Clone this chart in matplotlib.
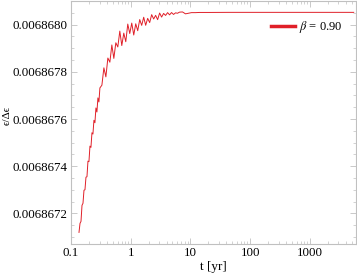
import matplotlib
matplotlib.use("Agg")
import matplotlib.pyplot as plt
from matplotlib.ticker import FixedLocator, LogLocator, NullFormatter, MultipleLocator, FuncFormatter

# time [yr]
t_yr = [0.1359, 0.1413, 0.1468, 0.1526, 0.1585, 0.1647, 0.1711, 0.1778, 0.1848, 0.1920,
        0.1995, 0.2073, 0.2154, 0.2239, 0.2326, 0.2417, 0.2512, 0.2610, 0.2712, 0.2818,
        0.2929, 0.3043, 0.3286, 0.3548, 0.3831, 0.4136, 0.4467, 0.4822, 0.5207, 0.5623,
        0.6072, 0.6556, 0.7079, 0.7644, 0.8254, 0.8913, 0.9624, 1.039, 1.122, 1.212,
        1.308, 1.413, 1.525, 1.647, 1.778, 1.920, 2.074, 2.239, 2.418, 2.610,
        2.818, 3.043, 3.286, 3.548, 3.831, 4.136, 4.467, 4.822, 5.207, 5.623,
        6.072, 6.556, 7.356, 8.254, 9.261, 10.39, 12.12, 14.13, 20.74, 44.67,
        141.3, 655.6, 5412.0]

# epsilon / delta epsilon
ratio = [0.0068671191, 0.0068671574, 0.0068671660, 0.0068672340, 0.0068672426, 0.0068672979,
         0.0068673000, 0.0068673532, 0.0068673553, 0.0068674213, 0.0068674192, 0.0068674851,
         0.0068674796, 0.0068675417, 0.0068675362, 0.0068675945, 0.0068675843, 0.0068676468,
         0.0068676298, 0.0068676894, 0.0068676723, 0.0068677319, 0.0068677434, 0.0068678170,
         0.0068677787, 0.0068678587, 0.0068678408, 0.0068679140, 0.0068678570, 0.0068679234,
         0.0068679055, 0.0068679728, 0.0068679115, 0.0068679642, 0.0068679277, 0.0068680026,
         0.0068679625, 0.0068680068, 0.0068679562, 0.0068680038, 0.0068679745, 0.0068680217,
         0.0068679970, 0.0068680315, 0.0068679974, 0.0068680268, 0.0068680089, 0.0068680426,
         0.0068680242, 0.0068680396, 0.0068680213, 0.0068680494, 0.0068680323, 0.0068680477,
         0.0068680392, 0.0068680511, 0.0068680417, 0.0068680515, 0.0068680434, 0.0068680502,
         0.0068680485, 0.0068680532, 0.0068680540, 0.0068680460, 0.0068680485, 0.0068680511,
         0.0068680511, 0.0068680519, 0.0068680519, 0.0068680523, 0.0068680523, 0.0068680523,
         0.0068680523]

x_ticks = [0.1, 1, 10, 100, 1000]
y_ticks = [0.0068672, 0.0068674, 0.0068676, 0.0068678, 0.0068680]

plt.rcParams["font.family"] = ["Liberation Serif", "DejaVu Serif"]
plt.rcParams["mathtext.fontset"] = "stix"

fig = plt.figure(figsize=(3.57, 2.76), dpi=100)
ax = fig.add_axes([0.199, 0.116, 0.798, 0.88])

red = "#e01f28"
ax.plot(t_yr, ratio, color=red, lw=0.7, label=r"$\beta$ = 0.90")

ax.set_xscale("log")
ax.set_xlim(0.1, 5900)
ax.set_ylim(0.00686707, 0.0068681)

ax.xaxis.set_major_locator(FixedLocator(x_ticks))
ax.xaxis.set_major_formatter(FuncFormatter(lambda v, p: f"{v:g}"))
ax.xaxis.set_minor_locator(LogLocator(base=10, subs=range(2, 10)))
ax.xaxis.set_minor_formatter(NullFormatter())
ax.yaxis.set_major_locator(FixedLocator(y_ticks))
ax.yaxis.set_major_formatter(FuncFormatter(lambda v, p: f"{v:.7f}"))
ax.yaxis.set_minor_locator(MultipleLocator(0.00000005))

gray = "#c0c0c0"
for s in ax.spines.values():
    s.set_color(gray)
    s.set_linewidth(0.8)
ax.tick_params(which="both", direction="in", top=True, right=True, color=gray,
               labelsize=9.3, labelcolor="black", pad=2.5)
ax.tick_params(which="major", length=4, width=0.6)
ax.tick_params(which="minor", length=2, width=0.5)

ax.set_xlabel("t [yr]", fontsize=9.5, labelpad=1)
ax.set_ylabel("ϵ/Δϵ", fontsize=8)
ax.yaxis.set_label_coords(-0.21, 0.53)

leg = ax.legend(loc="upper right", bbox_to_anchor=(0.953, 0.925), frameon=False,
                fontsize=9, handlelength=1.9, handletextpad=0.35,
                borderpad=0, borderaxespad=0)
for h in leg.get_lines():
    h.set_linewidth(2.5)

fig.savefig("out.png", dpi=100)
